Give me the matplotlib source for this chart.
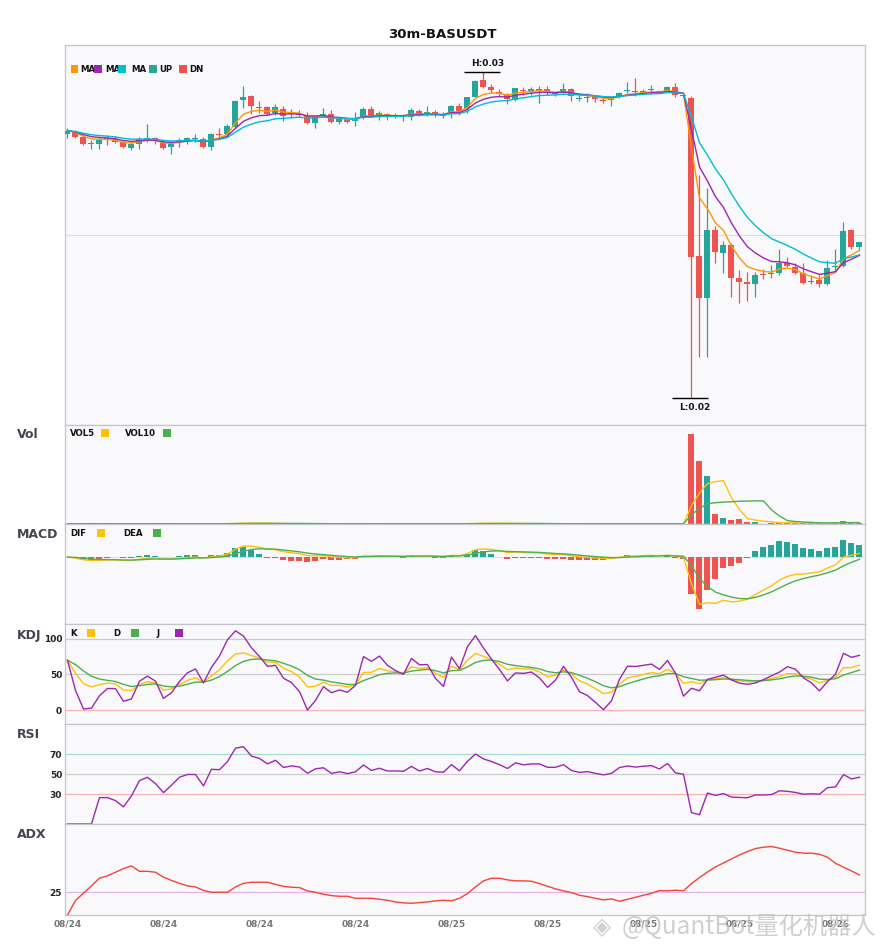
import numpy as np
import pandas as pd
import matplotlib
matplotlib.use('Agg')
import matplotlib.pyplot as plt
from matplotlib.patches import Rectangle

# ---------------- data (prices in 1e-5 USDT) ----------------
title = '30m-BASUSDT'
x_label_idx = [0, 12, 24, 36, 48, 60, 72, 84, 96]
x_labels = ['08/24', '08/24', '08/24', '08/24', '08/25', '08/25', '08/25', '08/25', '08/26']

open_e5 = [2802, 2810, 2795, 2772, 2774, 2791, 2787, 2778, 2762, 2772,
           2785, 2792, 2775, 2764, 2778, 2782, 2788, 2788, 2765, 2803,
           2802, 2825, 2905, 2917, 2883, 2885, 2865, 2877, 2864, 2863,
           2857, 2835, 2861, 2863, 2840, 2847, 2843, 2855, 2877, 2860,
           2863, 2856, 2857, 2855, 2873, 2863, 2869, 2860, 2865, 2887,
           2880, 2915, 2965, 2945, 2930, 2922, 2905, 2934, 2930, 2932,
           2937, 2924, 2927, 2937, 2909, 2912, 2915, 2904, 2906, 2915,
           2932, 2931, 2927, 2934, 2933, 2933, 2943, 2919, 2912, 2437,
           2312, 2515, 2447, 2470, 2370, 2358, 2352, 2382, 2382, 2387,
           2417, 2405, 2385, 2359, 2365, 2353, 2404, 2407, 2515, 2465]
high_e5 = [2822, 2815, 2800, 2785, 2795, 2800, 2797, 2785, 2779, 2794,
           2832, 2795, 2785, 2780, 2790, 2795, 2802, 2795, 2805, 2822,
           2832, 2905, 2947, 2920, 2902, 2887, 2893, 2887, 2877, 2875,
           2868, 2860, 2882, 2875, 2853, 2850, 2870, 2885, 2887, 2872,
           2865, 2865, 2863, 2880, 2877, 2887, 2875, 2870, 2890, 2895,
           2915, 2965, 2990, 2953, 2937, 2925, 2942, 2945, 2945, 2947,
           2947, 2930, 2955, 2940, 2923, 2927, 2920, 2910, 2910, 2930,
           2960, 2970, 2938, 2950, 2936, 2948, 2955, 2921, 2918, 2680,
           2640, 2527, 2483, 2476, 2395, 2390, 2390, 2397, 2410, 2457,
           2435, 2417, 2417, 2380, 2380, 2425, 2457, 2540, 2517, 2480]
low_e5 = [2792, 2790, 2770, 2758, 2758, 2770, 2776, 2761, 2756, 2758,
          2780, 2772, 2758, 2742, 2764, 2772, 2780, 2762, 2755, 2792,
          2798, 2822, 2880, 2862, 2865, 2860, 2860, 2843, 2850, 2853,
          2832, 2822, 2853, 2835, 2832, 2837, 2828, 2847, 2853, 2845,
          2845, 2850, 2843, 2845, 2857, 2857, 2855, 2850, 2850, 2860,
          2865, 2913, 2940, 2927, 2915, 2893, 2903, 2920, 2920, 2897,
          2920, 2917, 2925, 2903, 2903, 2900, 2900, 2897, 2887, 2910,
          2925, 2917, 2925, 2922, 2925, 2930, 2915, 2913, 2010, 2133,
          2133, 2417, 2385, 2313, 2295, 2303, 2315, 2367, 2370, 2380,
          2403, 2383, 2353, 2353, 2343, 2350, 2390, 2403, 2457, 2455]
close_e5 = [2813, 2795, 2774, 2773, 2785, 2785, 2780, 2765, 2773, 2788,
            2792, 2782, 2762, 2772, 2785, 2790, 2790, 2765, 2802, 2801,
            2827, 2902, 2915, 2888, 2881, 2863, 2883, 2857, 2865, 2861,
            2837, 2857, 2862, 2840, 2847, 2840, 2847, 2877, 2857, 2867,
            2857, 2857, 2856, 2875, 2860, 2870, 2859, 2858, 2887, 2867,
            2913, 2963, 2945, 2935, 2923, 2907, 2940, 2932, 2937, 2937,
            2925, 2925, 2937, 2917, 2910, 2913, 2907, 2902, 2907, 2927,
            2933, 2930, 2933, 2935, 2927, 2945, 2920, 2916, 2435, 2310,
            2515, 2450, 2470, 2372, 2360, 2352, 2380, 2380, 2383, 2417,
            2407, 2387, 2357, 2360, 2353, 2400, 2405, 2512, 2463, 2480]
volume = [30, 25, 40, 35, 30, 20, 20, 30, 35, 30,
          40, 25, 30, 35, 25, 20, 15, 30, 45, 30,
          60, 110, 140, 80, 40, 35, 30, 30, 20, 20,
          35, 30, 25, 30, 20, 15, 25, 35, 30, 20,
          20, 15, 15, 25, 20, 25, 20, 15, 40, 35,
          70, 120, 100, 50, 40, 40, 45, 25, 20, 30,
          25, 15, 30, 30, 20, 20, 15, 15, 20, 25,
          30, 25, 15, 20, 15, 25, 40, 50, 9000, 6330,
          4800, 1000, 600, 400, 500, 230, 200, 50, 130, 60,
          230, 70, 80, 60, 70, 100, 200, 300, 70, 70]
adx_values = [0, 16, 24, 32, 40.5, 43, 47, 51, 54, 48,
              48, 47, 41.6, 38, 34.8, 32, 30.8, 27, 25, 25,
              25, 30.8, 34.8, 36, 36, 36, 33.7, 31.5, 30.5, 30.1,
              26.5, 25, 22.8, 21.3, 20.6, 20.6, 18.4, 18.4, 18.4, 17.3,
              16.2, 14.4, 13.3, 12.9, 13.6, 14.4, 15.5, 16.2, 15.5, 18.4,
              23.5, 30.9, 37.5, 40.4, 40.4, 38.6, 37.5, 37.5, 37.1, 34.5,
              31.6, 28.7, 26.5, 24.6, 21.7, 20.2, 18.4, 16.6, 17.7, 15.1,
              17.3, 19.5, 21.7, 23.9, 26.8, 26.5, 27.2, 26.5, 34.5, 41.1,
              47.3, 52.8, 57.2, 61.6, 66, 69.7, 73, 74.5, 75.2, 73.4,
              71.2, 69, 67.9, 67.9, 66.8, 63.5, 56.9, 52.5, 48.4, 44]

# indicator settings
MA_SPANS = [5, 8, 13]
MACD_FAST, MACD_SLOW, MACD_SIG = 5, 13, 5
KDJ_N = 9
RSI_N = 14

# ---------------- derived series ----------------
o = np.array(open_e5) / 1e5
h = np.array(high_e5) / 1e5
l = np.array(low_e5) / 1e5
c = np.array(close_e5) / 1e5
v = np.array(volume, dtype=float)
adx = np.array(adx_values)
n = len(c)
x = np.arange(n)
cs, hs, ls, vs = pd.Series(c), pd.Series(h), pd.Series(l), pd.Series(v)

def ema(s, span):
    return s.ewm(span=span, adjust=False).mean()

mas = [ema(cs, s) for s in MA_SPANS]
vol5 = vs.rolling(5, min_periods=1).mean()
vol10 = vs.rolling(10, min_periods=1).mean()
dif = ema(cs, MACD_FAST) - ema(cs, MACD_SLOW)
dea = ema(dif, MACD_SIG)
hist = 2 * (dif - dea)

ll = ls.rolling(KDJ_N, min_periods=1).min()
hh = hs.rolling(KDJ_N, min_periods=1).max()
rsv = ((cs - ll) / (hh - ll) * 100).fillna(50)
K = rsv.ewm(com=2, adjust=False).mean()
D = K.ewm(com=2, adjust=False).mean()
J = 3 * K - 2 * D

delta = cs.diff().fillna(0)
gain = delta.clip(lower=0)
loss = (-delta).clip(lower=0)
ag = gain.ewm(alpha=1 / RSI_N, adjust=False).mean()
al = loss.ewm(alpha=1 / RSI_N, adjust=False).mean()
rsi = (100 * ag / (ag + al)).fillna(0)

# ---------------- style ----------------
UP, DN = '#26a69a', '#ef5350'
C_MA = ['#ff9800', '#9c27b0', '#00bcd4']
YEL, GRN, PUR = '#ffc107', '#4caf50', '#9c27b0'
FACE = '#f9f9fc'
SPINE = '#c4c4cc'
W, H = 885, 950

fig = plt.figure(figsize=(W / 100, H / 100), dpi=100)
fig.patch.set_facecolor('white')

def rect(top, bottom):
    return [65 / W, 1 - bottom / H, 800 / W, (bottom - top) / H]

def fx(px):
    return px / W

def fy(py):
    return 1 - py / H

panels = {}
for name, (t, b) in {'main': (45, 425), 'vol': (425, 524), 'macd': (524, 624),
                     'kdj': (624, 724), 'rsi': (724, 824), 'adx': (824, 915)}.items():
    ax = fig.add_axes(rect(t, b))
    ax.set_facecolor(FACE)
    for sp in ax.spines.values():
        sp.set_color(SPINE)
        sp.set_linewidth(0.9)
    ax.set_xlim(-0.31, 99.69)
    ax.tick_params(axis='both', length=0, labelsize=6.5, pad=2)
    ax.set_xticks([])
    ax.set_yticks([])
    panels[name] = ax

colors = np.where(c >= o, UP, DN)

# main candles
ax = panels['main']
ax.set_ylim(0.01930, 0.03070)
ax.axhline(0.025, color='#dcdce2', lw=0.8, zorder=1)
ax.vlines(x, l, h, colors=colors, linewidth=0.9, zorder=2)
body_b = np.minimum(o, c)
body_h = np.maximum(np.abs(c - o), 0.00003)
ax.bar(x, body_h, bottom=body_b, width=0.75, color=colors, linewidth=0, zorder=3)
for m, col in zip(mas, C_MA):
    ax.plot(x, m, color=col, lw=1.0, zorder=4)

hi_i = int(np.argmax(h)); hi_v = h[hi_i]
lo_i = int(np.argmin(l)); lo_v = l[lo_i]
ax.hlines(hi_v, hi_i - 2.44, hi_i + 2.06, color='black', lw=1.0, zorder=5)
ax.annotate(f'H:{hi_v:.2f}', (hi_i + 0.56, hi_v), xytext=(0, 2.5), textcoords='offset points',
            ha='center', va='bottom', fontsize=6.5, fontweight='bold', color='#111')
ax.hlines(lo_v, lo_i - 2.44, lo_i + 2.06, color='black', lw=1.0, zorder=5)
ax.annotate(f'L:{lo_v:.2f}', (lo_i + 0.44, lo_v), xytext=(0, -3), textcoords='offset points',
            ha='center', va='top', fontsize=6.5, fontweight='bold', color='#111')

# volume
ax = panels['vol']
ax.bar(x, v, width=0.75, color=colors, linewidth=0, zorder=2)
ax.plot(x, vol5, color=YEL, lw=1.0, zorder=3)
ax.plot(x, vol10, color=GRN, lw=1.0, zorder=3)
ax.set_ylim(0, v.max() * 1.1)

# MACD
ax = panels['macd']
mn = min(dif.min(), dea.min(), hist.min())
kscale = -mn / 52.3
ax.set_ylim(-67.3 * kscale, 33.3 * kscale)
ax.axhline(0, color='#dddddd', lw=0.8, zorder=1)
ax.bar(x, hist, width=0.75, color=np.where(hist >= 0, UP, DN), linewidth=0, zorder=2)
ax.plot(x, dif, color=YEL, lw=1.0, zorder=3)
ax.plot(x, dea, color=GRN, lw=1.0, zorder=3)

# KDJ
ax = panels['kdj']
ax.set_ylim(-19.7, 121.1)
for lv, col in [(100, '#a6dcd4'), (50, '#cccccc'), (0, '#f5b5b5')]:
    ax.axhline(lv, color=col, lw=0.9, zorder=1)
ax.set_yticks([100, 50, 0])
ax.plot(x, K, color=YEL, lw=1.0, zorder=3)
ax.plot(x, D, color=GRN, lw=1.0, zorder=3)
ax.plot(x, J, color=PUR, lw=1.0, zorder=3)

# RSI
ax = panels['rsi']
ax.set_ylim(0, 100)
for lv, col in [(70, '#a6dcd4'), (50, '#cccccc'), (30, '#f5b5b5')]:
    ax.axhline(lv, color=col, lw=0.9, zorder=1)
ax.set_yticks([70, 50, 30])
ax.plot(x, rsi, color=PUR, lw=1.0, zorder=3)

# ADX
ax = panels['adx']
ax.set_ylim(0, 100)
ax.axhline(25, color='#e3b3ea', lw=0.9, zorder=1)
ax.set_yticks([25])
ax.plot(x, adx, color='#f44336', lw=1.0, zorder=3)
ax.set_xticks(x_label_idx)
ax.set_xticklabels(x_labels)
ax.tick_params(axis='x', pad=3, colors='#777777', labelsize=6.5)

for name in ['kdj', 'rsi', 'adx']:
    for t in panels[name].get_yticklabels():
        t.set_fontweight('bold')
        t.set_color('#222222')
for t in panels['adx'].get_xticklabels():
    t.set_fontweight('bold')

# title and panel labels
fig.text(0.5, fy(34), title, ha='center', va='center', fontsize=9.5, fontweight='bold', color='#111')
for lab, py in [('Vol', 435), ('MACD', 535), ('KDJ', 635), ('RSI', 735), ('ADX', 835)]:
    fig.text(fx(17), fy(py), lab, ha='left', va='center', fontsize=9, fontweight='bold', color='#444450')

# legends
def legend(items, py):
    for kind, val, px in items:
        if kind == 't':
            fig.text(fx(px), fy(py), val, ha='left', va='center', fontsize=6.2,
                     fontweight='bold', color='#111', zorder=5)
        else:
            fig.add_artist(Rectangle((fx(px), fy(py + 3.6)), 7.5 / W, 7.5 / H,
                                     transform=fig.transFigure, facecolor=val,
                                     edgecolor='none', zorder=6))

legend([('s', C_MA[0], 70.7), ('t', 'MA', 80.7), ('s', C_MA[1], 94), ('t', 'MA', 105),
        ('s', C_MA[2], 118.3), ('t', 'MA', 131.7), ('s', UP, 149.3), ('t', 'UP', 159.3),
        ('s', DN, 179.3), ('t', 'DN', 189.3)], 69)
legend([('t', 'VOL5', 70), ('s', YEL, 101), ('t', 'VOL10', 125), ('s', GRN, 163)], 433.3)
legend([('t', 'DIF', 70), ('s', YEL, 97), ('t', 'DEA', 123.3), ('s', GRN, 153)], 533.3)
legend([('t', 'K', 70), ('s', YEL, 87.3), ('t', 'D', 113.3), ('s', GRN, 131.3),
        ('t', 'J', 156.7), ('s', PUR, 175.3)], 633.3)

# watermark
fig.text(fx(602), fy(927), '◈', ha='center', va='center', fontsize=17, color='#d0d0d0', zorder=10)
fig.text(fx(622), fy(927), '@QuantBot量化机器人', ha='left', va='center', fontsize=17.5,
         color='#c4c4c4', alpha=0.8, family=['Noto Sans CJK SC', 'DejaVu Sans'], zorder=10)

fig.savefig('out.png', dpi=100, facecolor='white')
